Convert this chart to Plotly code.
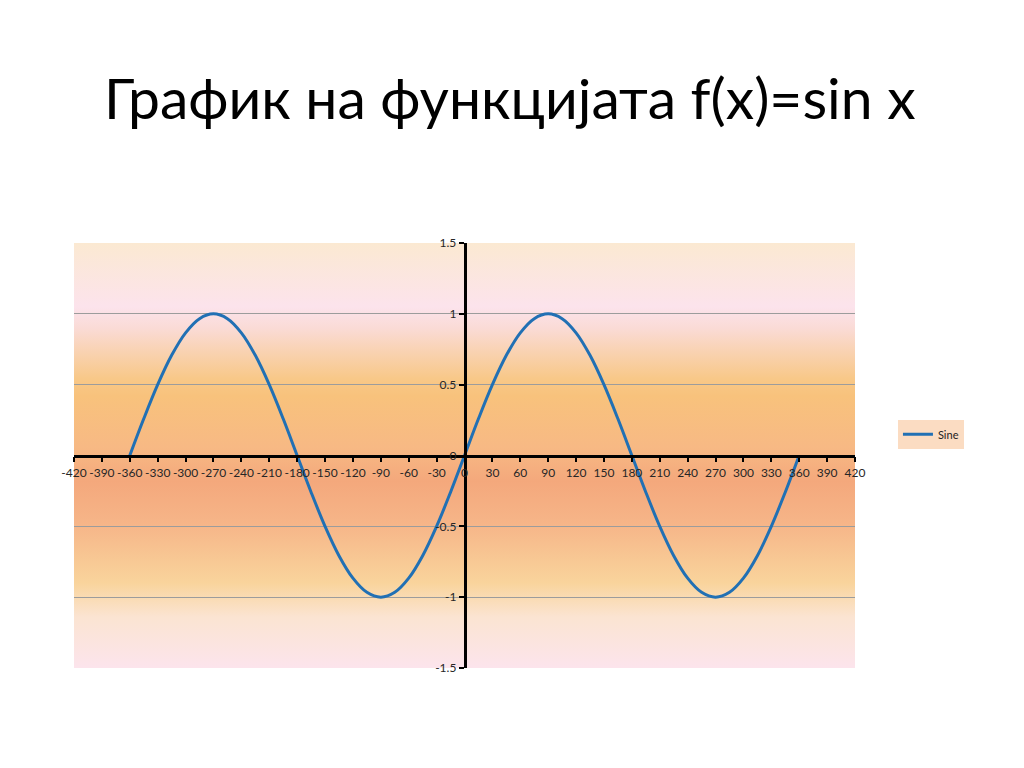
import base64
import plotly.graph_objects as go

# sine values, every 15 degrees
x_deg = [-360, -345, -330, -315, -300, -285, -270, -255, -240, -225, -210, -195,
         -180, -165, -150, -135, -120, -105, -90, -75, -60, -45, -30, -15, 0,
         15, 30, 45, 60, 75, 90, 105, 120, 135, 150, 165, 180,
         195, 210, 225, 240, 255, 270, 285, 300, 315, 330, 345, 360]
y_sine = [0, 0.259, 0.5, 0.707, 0.866, 0.966, 1, 0.966, 0.866, 0.707, 0.5, 0.259,
          0, -0.259, -0.5, -0.707, -0.866, -0.966, -1, -0.966, -0.866, -0.707, -0.5, -0.259, 0,
          0.259, 0.5, 0.707, 0.866, 0.966, 1, 0.966, 0.866, 0.707, 0.5, 0.259, 0,
          -0.259, -0.5, -0.707, -0.866, -0.966, -1, -0.966, -0.866, -0.707, -0.5, -0.259, 0]
series_name = "Sine"
title_text = "График на функцијата f(x)=sin x"

# axis ticks (hyphen minus as in the original)
x_ticks = [-420, -390, -360, -330, -300, -270, -240, -210, -180, -150, -120, -90, -60, -30,
           0, 30, 60, 90, 120, 150, 180, 210, 240, 270, 300, 330, 360, 390, 420]
x_tick_labels = ["-420", "-390", "-360", "-330", "-300", "-270", "-240", "-210", "-180",
                 "-150", "-120", "-90", "-60", "-30", "0", "30", "60", "90", "120", "150",
                 "180", "210", "240", "270", "300", "330", "360", "390", "420"]
y_ticks = [-1.5, -1, -0.5, 0, 0.5, 1, 1.5]
y_tick_labels = ["-1.5", "-1", "-0.5", "0", "0.5", "1", "1.5"]

# background gradient (top -> bottom), like the preset office fill
stops = [
    (0.00, "#FBE9D2"), (0.15, "#FCE3EC"), (0.20, "#FADBD6"),
    (0.32, "#F8C888"), (0.36, "#F8C27C"), (0.48, "#F7B984"), (0.56, "#F4A87C"),
    (0.66, "#F6B588"), (0.80, "#F9D49C"), (0.88, "#FBE4D2"),
    (1.00, "#FCE4EC"),
]
svg = ('<svg xmlns="http://www.w3.org/2000/svg" width="10" height="300" preserveAspectRatio="none">'
       '<defs><linearGradient id="g" x1="0" y1="0" x2="0" y2="1">'
       + "".join(f'<stop offset="{o}" stop-color="{c}"/>' for o, c in stops)
       + '</linearGradient></defs><rect width="10" height="300" fill="url(#g)"/></svg>')
bg_src = "data:image/svg+xml;base64," + base64.b64encode(svg.encode()).decode()

fig = go.Figure()
fig.add_trace(go.Scatter(x=x_deg, y=y_sine, name=series_name, mode="lines",
                         line=dict(color="#2170B4", width=3, shape="spline"),
                         showlegend=True))

fig.add_layout_image(dict(source=bg_src, xref="x", yref="y", x=-420, y=1.5,
                          sizex=840, sizey=3, sizing="stretch", layer="below"))

tick_font = dict(family="Liberation Sans Narrow, Lato, sans-serif", size=12, color="#262626")

fig.update_layout(
    width=1024, height=768,
    margin=dict(l=66, r=177, t=235, b=108),
    paper_bgcolor="white", plot_bgcolor="white",
    title=dict(text=title_text, x=0.49, xanchor="center", y=0.882, yanchor="middle",
               font=dict(family="Lato, Open Sans, sans-serif", size=57, color="black")),
    legend=dict(x=1.055, y=0.55, xanchor="left", yanchor="middle",
                bgcolor="#FBDCC2", font=dict(family="Lato, Open Sans, sans-serif", size=11, color="#222"),
                itemwidth=30, tracegroupgap=0),
    showlegend=True,
)
fig.update_xaxes(range=[-420, 420], tickvals=x_ticks, ticktext=x_tick_labels,
                 showgrid=False, zeroline=False,
                 anchor="free", position=0.5, showline=True, linecolor="black", linewidth=2.5,
                 ticks="outside", ticklen=5, tickwidth=2, tickcolor="black", tickangle=0,
                 tickfont=tick_font, layer="above traces")
fig.update_yaxes(range=[-1.5, 1.5], tickvals=y_ticks, ticktext=y_tick_labels,
                 showgrid=True, gridcolor="#9C9C9C", gridwidth=1,
                 zeroline=False, anchor="free", position=0.5, showline=True, linecolor="black",
                 linewidth=2.5, ticks="outside", ticklen=5, tickwidth=2, tickcolor="black",
                 tickfont=tick_font, layer="above traces")

fig.write_html("out.html")
